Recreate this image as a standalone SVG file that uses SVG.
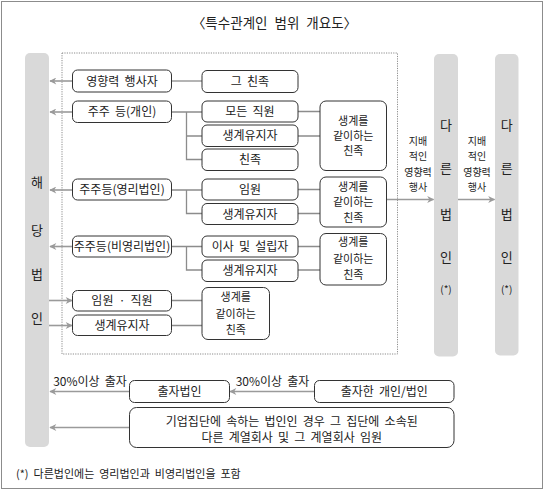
<svg xmlns="http://www.w3.org/2000/svg" width="545" height="492" viewBox="0 0 545 492">
<style>
text{font-family:"Noto Sans CJK KR","Noto Sans",sans-serif;fill:#222;font-size:12px;word-spacing:2.5px}
.c{text-anchor:middle}
.g{font-size:11px}
.bx{fill:#fff;stroke:#333;stroke-width:1}
.bar{fill:#d9d9d9}
.ln{fill:none;stroke:#8c8c8c;stroke-width:1.3}
.ar{fill:none;stroke:#9a9a9a;stroke-width:1.6}
.bt{font-size:13px}
.sm{font-size:10px}
</style>
<defs>
<marker id="ah" viewBox="0 0 10 10" refX="9" refY="5" markerWidth="8" markerHeight="7" markerUnits="userSpaceOnUse" orient="auto">
<path d="M0,0 L10,5 L0,10 L3,5 Z" fill="#9a9a9a"/>
</marker>
</defs>
<rect x="1.5" y="1.5" width="541" height="487" fill="#fff" stroke="#8c8c8c" stroke-width="1"/>
<text id="title" class="c" x="274.5" y="28" style="font-size:13.5px;word-spacing:4px">〈특수관계인 범위 개요도〉</text>
<rect x="62" y="53" width="335.5" height="301" fill="none" stroke="#8c8c8c" stroke-width="1" stroke-dasharray="1.2,1.2"/>

<g id="haedang">
<rect class="bar" x="25" y="53" width="24" height="394" rx="5"/>
<text class="c bt" x="37" y="187">해</text>
<text class="c bt" x="37" y="235">당</text>
<text class="c bt" x="37" y="279">법</text>
<text class="c bt" x="37" y="323">인</text>
</g>
<g id="other1">
<rect class="bar" x="434" y="54" width="24" height="302.5" rx="5"/>
<text class="c bt" x="446" y="130">다</text>
<text class="c bt" x="446" y="173">른</text>
<text class="c bt" x="446" y="219">법</text>
<text class="c bt" x="446" y="262">인</text>
<text class="c sm" x="446" y="293">(*)</text>
</g>
<g id="other2">
<rect class="bar" x="495" y="54" width="23.5" height="301.5" rx="5"/>
<text class="c bt" x="506.7" y="130">다</text>
<text class="c bt" x="506.7" y="173">른</text>
<text class="c bt" x="506.7" y="219">법</text>
<text class="c bt" x="506.7" y="262">인</text>
<text class="c sm" x="506.7" y="293">(*)</text>
</g>

<g id="connectors">
<path class="ln" d="M171.5,81 H202"/>
<path class="ln" d="M171.5,112 H202 M186.5,112 V159.5 H202 M186.5,136 H202"/>
<path class="ln" d="M298,111.5 H320 M298,136 H320"/>
<path class="ln" d="M171.5,190 H202 M186.5,190 V213.5 H202"/>
<path class="ln" d="M298,189.5 H320 M298,213.5 H320"/>
<path class="ln" d="M171.5,246.5 H202 M186.5,246.5 V270 H202"/>
<path class="ln" d="M298,246.5 H320 M298,270 H320"/>
<path class="ln" d="M171.5,300.5 H202 M171.5,325.5 H202"/>
<path class="ar" d="M72.5,81 H50" marker-end="url(#ah)"/>
<path class="ar" d="M72.5,112 H50" marker-end="url(#ah)"/>
<path class="ar" d="M72.5,190 H50" marker-end="url(#ah)"/>
<path class="ar" d="M72.5,246.5 H50" marker-end="url(#ah)"/>
<path class="ar" d="M49,300.5 H72" marker-end="url(#ah)"/>
<path class="ar" d="M49,325.5 H72" marker-end="url(#ah)"/>
<path class="ar" d="M386.5,199.5 H433.5" marker-end="url(#ah)"/>
<path class="ar" d="M458,199.5 H494.5" marker-end="url(#ah)"/>
<path class="ar" d="M129.5,391.5 H50" marker-end="url(#ah)"/>
<path class="ar" d="M314.5,391.5 H230" marker-end="url(#ah)"/>
<path class="ar" d="M129.5,427.5 H50" marker-end="url(#ah)"/>
<text class="c sm" x="418" y="144.5">지배</text>
<text class="c sm" x="418" y="160">적인</text>
<text class="c sm" x="418" y="175.5">영향력</text>
<text class="c sm" x="418" y="191">행사</text>
<text class="c sm" x="477" y="144.5">지배</text>
<text class="c sm" x="477" y="160">적인</text>
<text class="c sm" x="477" y="175.5">영향력</text>
<text class="c sm" x="477" y="191">행사</text>
<text class="c" x="90" y="385.5">30%이상 출자</text>
<text class="c" x="272.5" y="385.5">30%이상 출자</text>
</g>

<g id="n-influencer"><rect class="bx" x="72.5" y="70" width="99" height="22" rx="5"/><text class="c" x="122" y="85.5">영향력 행사자</text></g>
<g id="n-influencer-kin"><rect class="bx" x="202" y="70.5" width="96" height="22" rx="5"/><text class="c" x="250" y="86">그 친족</text></g>

<g id="n-sh-ind"><rect class="bx" x="72.5" y="101" width="99" height="21.5" rx="5"/><text class="c" x="122" y="116.2">주주 등(개인)</text></g>
<g id="n-all-staff"><rect class="bx" x="202" y="101" width="96" height="21" rx="5"/><text class="c" x="250" y="116">모든 직원</text></g>
<g id="n-dep1"><rect class="bx" x="202" y="125" width="96" height="21.5" rx="5"/><text class="c" x="250" y="140.2">생계유지자</text></g>
<g id="n-kin1"><rect class="bx" x="202" y="149" width="96" height="21.5" rx="5"/><text class="c" x="250" y="164.2">친족</text></g>
<g id="n-grp1"><rect class="bx" x="320" y="101" width="66.5" height="69.5" rx="6"/><text class="c g" x="353.25" y="125">생계를</text><text class="c g" x="353.25" y="140">같이하는</text><text class="c g" x="353.25" y="155">친족</text></g>

<g id="n-sh-corp"><rect class="bx" x="72.5" y="179" width="99" height="21" rx="5"/><text class="c" x="122" y="194">주주등(영리법인)</text></g>
<g id="n-officer"><rect class="bx" x="202" y="179" width="96" height="21" rx="5"/><text class="c" x="250" y="194">임원</text></g>
<g id="n-dep2"><rect class="bx" x="202" y="203.5" width="96" height="21" rx="5"/><text class="c" x="250" y="218.5">생계유지자</text></g>
<g id="n-grp2"><rect class="bx" x="320" y="177" width="66.5" height="50" rx="6"/><text class="c g" x="353.25" y="190.5">생계를</text><text class="c g" x="353.25" y="206">같이하는</text><text class="c g" x="353.25" y="221.5">친족</text></g>

<g id="n-sh-npo"><rect class="bx" x="72.5" y="236" width="99" height="21" rx="5"/><text class="c" x="122" y="251">주주등(비영리법인)</text></g>
<g id="n-director"><rect class="bx" x="202" y="236" width="96" height="21" rx="5"/><text class="c" x="250" y="251">이사 및 설립자</text></g>
<g id="n-dep3"><rect class="bx" x="202" y="260" width="96" height="21.5" rx="5"/><text class="c" x="250" y="275.2">생계유지자</text></g>
<g id="n-grp3"><rect class="bx" x="320" y="233.5" width="66.5" height="51.5" rx="6"/><text class="c g" x="353.25" y="246">생계를</text><text class="c g" x="353.25" y="262.5">같이하는</text><text class="c g" x="353.25" y="279">친족</text></g>

<g id="n-staff"><rect class="bx" x="72.5" y="290.5" width="99" height="20.5" rx="5"/><text class="c" x="122" y="305">임원 · 직원</text></g>
<g id="n-dep4"><rect class="bx" x="72.5" y="315" width="99" height="20.5" rx="5"/><text class="c" x="122" y="329.5">생계유지자</text></g>
<g id="n-grp4"><rect class="bx" x="202" y="287.5" width="67.5" height="52" rx="6"/><text class="c g" x="235.75" y="301">생계를</text><text class="c g" x="235.75" y="318">같이하는</text><text class="c g" x="235.75" y="334">친족</text></g>

<g id="n-invest-corp"><rect class="bx" x="129.5" y="380.5" width="100" height="22" rx="5"/><text class="c" x="179.5" y="396">출자법인</text></g>
<g id="n-investor"><rect class="bx" x="314.5" y="380.5" width="139.5" height="22" rx="5"/><text class="c" x="384.25" y="396">출자한 개인/법인</text></g>
<g id="n-group"><rect class="bx" x="129.5" y="407.5" width="324.5" height="40" rx="7"/><text class="c" x="291.75" y="426">기업집단에 속하는 법인인 경우 그 집단에 소속된</text><text class="c" x="291.75" y="441.5">다른 계열회사 및 그 계열회사 임원</text></g>

<text id="footnote" x="16" y="477.5" style="font-size:11px">(*) 다른법인에는 영리법인과 비영리법인을 포함</text>
</svg>
